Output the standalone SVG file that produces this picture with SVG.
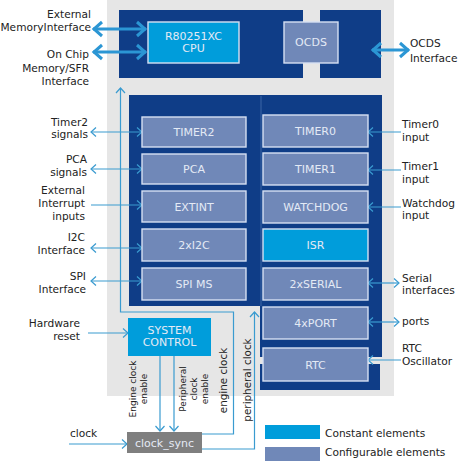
<svg xmlns="http://www.w3.org/2000/svg" width="459" height="461" viewBox="0 0 459 461">
<style>
.lbl{font-family:"DejaVu Sans",Verdana,sans-serif;font-size:10.6px;fill:#222}
.end{text-anchor:end}
.bt{font-family:"DejaVu Sans",Verdana,sans-serif;font-size:11px;fill:#e4eaf5;text-anchor:middle}
.rot{font-family:"DejaVu Sans",Verdana,sans-serif;font-size:9px;fill:#222;text-anchor:middle}
.rot2{font-family:"DejaVu Sans",Verdana,sans-serif;font-size:10.4px;fill:#222;text-anchor:middle}
.cfg{fill:#7088b8;stroke:#d6e0f2;stroke-width:1.4}
.cst{fill:#009ddb;stroke:#d6e0f2;stroke-width:1.4}
.dark{fill:#0f3d87}
.thin{fill:none;stroke:#3a9bd0;stroke-width:1.2}
.thick{fill:none;stroke:#2b96d4;stroke-width:3}
</style>
<defs>
<marker id="ah" markerUnits="userSpaceOnUse" markerWidth="14" markerHeight="14" viewBox="-10 -7 14 14" refX="0" refY="0" orient="auto-start-reverse">
<path d="M-5,-4.5 L0,0 L-5,4.5" fill="none" stroke="#3a9bd0" stroke-width="1.2"/>
</marker>
<marker id="ahb" markerUnits="userSpaceOnUse" markerWidth="20" markerHeight="20" viewBox="-14 -10 20 20" refX="0" refY="0" orient="auto-start-reverse">
<path d="M-9,-7 L-1,0 L-9,7" fill="none" stroke="#2b96d4" stroke-width="3"/>
</marker>
</defs>
<rect width="459" height="461" fill="#ffffff"/>
<g id="background">
<rect x="107" y="0" width="287" height="396" fill="#e6e6e6"/>
<rect class="dark" x="119" y="10" width="184" height="68"/>
<rect class="dark" x="320" y="10" width="61" height="68"/>
<rect class="dark" x="129" y="95" width="132" height="211"/>
<rect class="dark" x="260" y="95" width="122" height="262"/>
<rect class="dark" x="260" y="364" width="120" height="26"/>
<line x1="261" y1="96" x2="261" y2="306" stroke="#3d66a6" stroke-width="1"/>
</g>
<g id="connectors">
<line class="thick" x1="93" y1="29" x2="146" y2="29" marker-start="url(#ahb)" marker-end="url(#ahb)"/>
<line class="thick" x1="93" y1="52" x2="146" y2="52" marker-start="url(#ahb)" marker-end="url(#ahb)"/>
<line class="thick" x1="372" y1="50" x2="409" y2="50" marker-start="url(#ahb)" marker-end="url(#ahb)"/>
<line class="thin" x1="91" y1="132" x2="142" y2="132" marker-start="url(#ah)" marker-end="url(#ah)"/>
<line class="thin" x1="91" y1="169" x2="142" y2="169" marker-start="url(#ah)" marker-end="url(#ah)"/>
<line class="thin" x1="91" y1="205" x2="142" y2="205" marker-end="url(#ah)"/>
<line class="thin" x1="91" y1="248" x2="142" y2="248" marker-start="url(#ah)" marker-end="url(#ah)"/>
<line class="thin" x1="91" y1="281" x2="142" y2="281" marker-start="url(#ah)" marker-end="url(#ah)"/>
<line class="thin" x1="401" y1="132" x2="368" y2="132" marker-end="url(#ah)"/>
<line class="thin" x1="401" y1="170" x2="368" y2="170" marker-end="url(#ah)"/>
<line class="thin" x1="401" y1="207" x2="368" y2="207" marker-end="url(#ah)"/>
<line class="thin" x1="368" y1="283" x2="399" y2="283" marker-start="url(#ah)" marker-end="url(#ah)"/>
<line class="thin" x1="368" y1="322" x2="399" y2="322" marker-start="url(#ah)" marker-end="url(#ah)"/>
<line class="thin" x1="401" y1="360" x2="368" y2="360" marker-end="url(#ah)"/>
<line class="thin" x1="88" y1="333" x2="128" y2="333" marker-end="url(#ah)"/>
<line class="thin" x1="69" y1="444" x2="127" y2="444" marker-end="url(#ah)"/>
<line class="thin" x1="160" y1="356" x2="160" y2="431" marker-end="url(#ah)"/>
<line class="thin" x1="174" y1="356" x2="174" y2="431" marker-end="url(#ah)"/>
<polyline class="thin" points="202,434 233.5,434 233.5,312 120.5,312 120.5,88" marker-end="url(#ah)"/>
<polyline class="thin" points="202,449 254.5,449 254.5,312" marker-end="url(#ah)"/>
</g>
<g id="cpu"><rect class="cst" x="148" y="22" width="91" height="41"/><text class="bt" x="193.5" y="40">R80251XC</text><text class="bt" x="193.5" y="52">CPU</text></g>
<g id="ocds"><rect class="cfg" x="284" y="22" width="54" height="41"/><text class="bt" x="311" y="46">OCDS</text></g>
<g id="timer2"><rect class="cfg" x="142" y="117" width="104" height="30"/><text class="bt" x="194" y="136">TIMER2</text></g>
<g id="pca"><rect class="cfg" x="142" y="154" width="104" height="30"/><text class="bt" x="194" y="173">PCA</text></g>
<g id="extint"><rect class="cfg" x="142" y="191" width="104" height="31"/><text class="bt" x="194" y="210.5">EXTINT</text></g>
<g id="i2c"><rect class="cfg" x="142" y="229" width="104" height="32"/><text class="bt" x="194" y="249">2xI2C</text></g>
<g id="spims"><rect class="cfg" x="142" y="268" width="104" height="32"/><text class="bt" x="194" y="288">SPI MS</text></g>
<g id="timer0"><rect class="cfg" x="263" y="115" width="105" height="32"/><text class="bt" x="315.5" y="135">TIMER0</text></g>
<g id="timer1"><rect class="cfg" x="263" y="153" width="105" height="32"/><text class="bt" x="315.5" y="173">TIMER1</text></g>
<g id="watchdog"><rect class="cfg" x="263" y="191" width="105" height="32"/><text class="bt" x="315.5" y="211">WATCHDOG</text></g>
<g id="isr"><rect class="cst" x="263" y="229" width="105" height="32"/><text class="bt" x="315.5" y="249">ISR</text></g>
<g id="serial"><rect class="cfg" x="263" y="268" width="105" height="32"/><text class="bt" x="315.5" y="288">2xSERIAL</text></g>
<g id="port"><rect class="cfg" x="263" y="307" width="105" height="32"/><text class="bt" x="315.5" y="327">4xPORT</text></g>
<g id="rtc"><rect class="cfg" x="263" y="348" width="105" height="33"/><text class="bt" x="315.5" y="368.5">RTC</text></g>
<g id="sysctrl"><rect x="128" y="318" width="83" height="38" fill="#009ddb"/><text class="bt" x="169.5" y="334">SYSTEM</text><text class="bt" x="169.5" y="346">CONTROL</text></g>
<g id="clocksync"><rect x="127" y="432" width="75" height="21" fill="#7f7f7f"/><text class="bt" x="164.5" y="446.5">clock_sync</text></g>
<g id="legend">
<rect x="265" y="425" width="55" height="14" fill="#009ddb"/>
<rect x="265" y="447" width="55" height="14" fill="#7088b8"/>
<text class="lbl" x="325" y="437">Constant elements</text>
<text class="lbl" x="325" y="456">Configurable elements</text>
</g>
<g id="labels">
<text class="lbl end" x="91" y="18">External</text>
<text class="lbl end" x="91" y="31">MemoryInterface</text>
<text class="lbl end" x="89" y="58">On Chip</text>
<text class="lbl end" x="89" y="72">Memory/SFR</text>
<text class="lbl end" x="89" y="85">Interface</text>
<text class="lbl end" x="88" y="126">Timer2</text>
<text class="lbl end" x="88" y="138">signals</text>
<text class="lbl end" x="87" y="163">PCA</text>
<text class="lbl end" x="87" y="176">signals</text>
<text class="lbl end" x="85" y="194">External</text>
<text class="lbl end" x="85" y="207">Interrupt</text>
<text class="lbl end" x="85" y="220">inputs</text>
<text class="lbl end" x="85" y="241">I2C</text>
<text class="lbl end" x="85" y="254">Interface</text>
<text class="lbl end" x="86" y="280">SPI</text>
<text class="lbl end" x="86" y="293">Interface</text>
<text class="lbl end" x="80" y="327">Hardware</text>
<text class="lbl end" x="80" y="340">reset</text>
<text class="lbl" x="70" y="437">clock</text>
<text class="lbl" x="410" y="47">OCDS</text>
<text class="lbl" x="410" y="62">Interface</text>
<text class="lbl" x="402" y="128">Timer0</text>
<text class="lbl" x="402" y="141">input</text>
<text class="lbl" x="402" y="170">Timer1</text>
<text class="lbl" x="402" y="183">input</text>
<text class="lbl" x="402" y="207">Watchdog</text>
<text class="lbl" x="402" y="219">input</text>
<text class="lbl" x="402" y="282">Serial</text>
<text class="lbl" x="402" y="294">interfaces</text>
<text class="lbl" x="402" y="325">ports</text>
<text class="lbl" x="402" y="352">RTC</text>
<text class="lbl" x="402" y="365">Oscillator</text>
<text class="rot" transform="translate(135.5,389) rotate(-90)">Engine clock</text>
<text class="rot" transform="translate(146.5,389) rotate(-90)">enable</text>
<text class="rot" transform="translate(185.5,389) rotate(-90)">Peripheral</text>
<text class="rot" transform="translate(196.5,389) rotate(-90)">clock</text>
<text class="rot" transform="translate(208,389) rotate(-90)">enable</text>
<text class="rot2" transform="translate(227,380.5) rotate(-90)">engine clock</text>
<text class="rot2" transform="translate(251,380) rotate(-90)">peripheral clock</text>
</g>
</svg>
